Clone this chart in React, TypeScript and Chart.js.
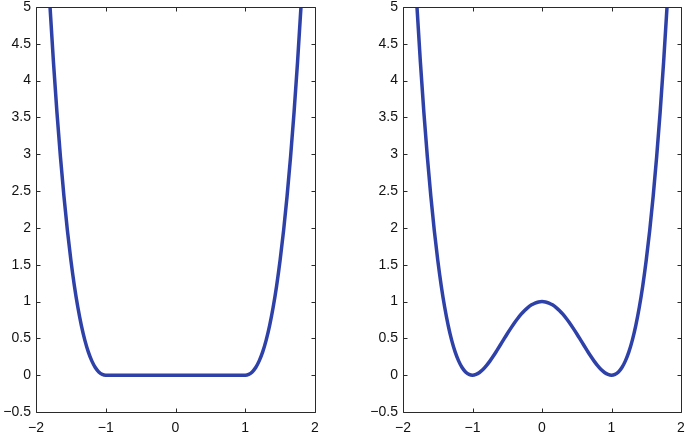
import React, { useEffect, useRef } from "react";
import { Chart, registerables } from "chart.js";

Chart.register(...registerables);

const xValues = [
  -2, -1.95, -1.9, -1.85, -1.8, -1.75, -1.7, -1.65, -1.6, -1.55, -1.5, -1.45, -1.4, -1.35, -1.3, -1.25, -1.2, -1.15, -1.1, -1.05,
  -1, -0.95, -0.9, -0.85, -0.8, -0.75, -0.7, -0.65, -0.6, -0.55, -0.5, -0.45, -0.4, -0.35, -0.3, -0.25, -0.2, -0.15, -0.1, -0.05,
  0, 0.05, 0.1, 0.15, 0.2, 0.25, 0.3, 0.35, 0.4, 0.45, 0.5, 0.55, 0.6, 0.65, 0.7, 0.75, 0.8, 0.85, 0.9, 0.95,
  1, 1.05, 1.1, 1.15, 1.2, 1.25, 1.3, 1.35, 1.4, 1.45, 1.5, 1.55, 1.6, 1.65, 1.7, 1.75, 1.8, 1.85, 1.9, 1.95, 2,
];

// Left panel: flat bottom between -1 and 1
const leftValues = [
  9, 7.854, 6.812, 5.869, 5.018, 4.254, 3.572, 2.967, 2.434, 1.967, 1.563, 1.216, 0.922, 0.677, 0.476, 0.316, 0.194, 0.104, 0.044, 0.011,
  0, 0, 0, 0, 0, 0, 0, 0, 0, 0, 0, 0, 0, 0, 0, 0, 0, 0, 0, 0,
  0, 0, 0, 0, 0, 0, 0, 0, 0, 0, 0, 0, 0, 0, 0, 0, 0, 0, 0, 0,
  0, 0.011, 0.044, 0.104, 0.194, 0.316, 0.476, 0.677, 0.922, 1.216, 1.563, 1.967, 2.434, 2.967, 3.572, 4.254, 5.018, 5.869, 6.812, 7.854, 9,
];

// Right panel: double well
const rightValues = [
  9, 7.854, 6.812, 5.869, 5.018, 4.254, 3.572, 2.967, 2.434, 1.967, 1.563, 1.216, 0.922, 0.677, 0.476, 0.316, 0.194, 0.104, 0.044, 0.011,
  0, 0.010, 0.036, 0.077, 0.130, 0.191, 0.260, 0.334, 0.410, 0.487, 0.563, 0.636, 0.706, 0.770, 0.828, 0.879, 0.922, 0.956, 0.980, 0.995,
  1, 0.995, 0.980, 0.956, 0.922, 0.879, 0.828, 0.770, 0.706, 0.636, 0.563, 0.487, 0.410, 0.334, 0.260, 0.191, 0.130, 0.077, 0.036, 0.010,
  0, 0.011, 0.044, 0.104, 0.194, 0.316, 0.476, 0.677, 0.922, 1.216, 1.563, 1.967, 2.434, 2.967, 3.572, 4.254, 5.018, 5.869, 6.812, 7.854, 9,
];

const xTickValues = [-2, -1, 0, 1, 2];
const yTickValues = [-0.5, 0, 0.5, 1, 1.5, 2, 2.5, 3, 3.5, 4, 4.5, 5];

const LINE_COLOR = "#2E41A8";
const AXIS_COLOR = "#2a2a2a";
const FONT = { family: "'Liberation Sans', Arial, Helvetica, sans-serif", size: 14 };

const fmt = (v: number) => {
  const s = String(Math.round(v * 10) / 10);
  return s.replace("-", "\u2212");
};

const frameTicks = {
  id: "frameTicks",
  afterDatasetsDraw(chart: any) {
    const { ctx, chartArea: a, scales } = chart;
    const xs = scales.x;
    const ys = scales.y;
    const L = Math.round(a.left) + 0.5;
    const R = Math.round(a.right) + 0.5;
    const T = Math.round(a.top) + 0.5;
    const B = Math.round(a.bottom) + 0.5;
    ctx.save();
    ctx.strokeStyle = AXIS_COLOR;
    ctx.lineWidth = 1;
    ctx.beginPath();
    ctx.rect(L, T, R - L, B - T);
    const len = 4;
    xs.ticks.forEach((t: any) => {
      const px = Math.round(xs.getPixelForValue(t.value)) + 0.5;
      ctx.moveTo(px, B);
      ctx.lineTo(px, B - len);
      ctx.moveTo(px, T);
      ctx.lineTo(px, T + len);
    });
    ys.ticks.forEach((t: any) => {
      const py = Math.round(ys.getPixelForValue(t.value)) + 0.5;
      ctx.moveTo(L, py);
      ctx.lineTo(L + len, py);
      ctx.moveTo(R, py);
      ctx.lineTo(R - len, py);
    });
    ctx.stroke();
    ctx.restore();
  },
};

function Panel({ values, left, width, padRight }: { values: number[]; left: number; width: number; padRight: number }) {
  const ref = useRef<HTMLCanvasElement | null>(null);
  useEffect(() => {
    if (!ref.current) return;
    const data = xValues.map((x, i) => ({ x, y: values[i] }));
    const chart = new Chart(ref.current, {
      type: "scatter",
      data: {
        datasets: [
          {
            data,
            showLine: true,
            borderColor: LINE_COLOR,
            backgroundColor: LINE_COLOR,
            borderWidth: 3.5,
            pointRadius: 0,
            cubicInterpolationMode: "monotone",
            clip: 0,
          } as any,
        ],
      },
      options: {
        animation: false,
        responsive: false,
        devicePixelRatio: 1,
        layout: { padding: { top: 7, right: padRight, left: 0, bottom: 0 } },
        plugins: { legend: { display: false }, tooltip: { enabled: false } },
        scales: {
          x: {
            type: "linear",
            min: -2,
            max: 2,
            afterBuildTicks: (s: any) => {
              s.ticks = xTickValues.map((v) => ({ value: v }));
            },
            afterFit: (s: any) => {
              s.height = 25;
              s.paddingLeft = 0;
              s.paddingRight = 0;
            },
            grid: { display: false, drawTicks: false },
            border: { display: false },
            ticks: {
              color: "#111",
              font: FONT,
              padding: 8,
              maxRotation: 0,
              autoSkip: false,
              callback: (v: any) => fmt(Number(v)),
            },
          },
          y: {
            type: "linear",
            min: -0.5,
            max: 5,
            afterBuildTicks: (s: any) => {
              s.ticks = yTickValues.map((v) => ({ value: v }));
            },
            afterFit: (s: any) => {
              s.width = 36;
              s.paddingTop = 0;
              s.paddingBottom = 0;
            },
            grid: { display: false, drawTicks: false },
            border: { display: false },
            ticks: {
              color: "#111",
              font: FONT,
              padding: 5,
              autoSkip: false,
              callback: (v: any) => fmt(Number(v)),
            },
          },
        },
      },
      plugins: [frameTicks],
    });
    return () => chart.destroy();
  }, [values]);
  return (
    <div style={{ position: "absolute", left, top: 0, width, height: 437 }}>
      <canvas ref={ref} width={width} height={437} style={{ display: "block" }} />
    </div>
  );
}

export default function App() {
  return (
    <div style={{ position: "fixed", left: 0, top: 0, width: 685, height: 437, background: "#fff", overflow: "hidden" }}>
      <Panel values={leftValues} left={0} width={340} padRight={25} />
      <Panel values={rightValues} left={367} width={318} padRight={4} />
    </div>
  );
}
